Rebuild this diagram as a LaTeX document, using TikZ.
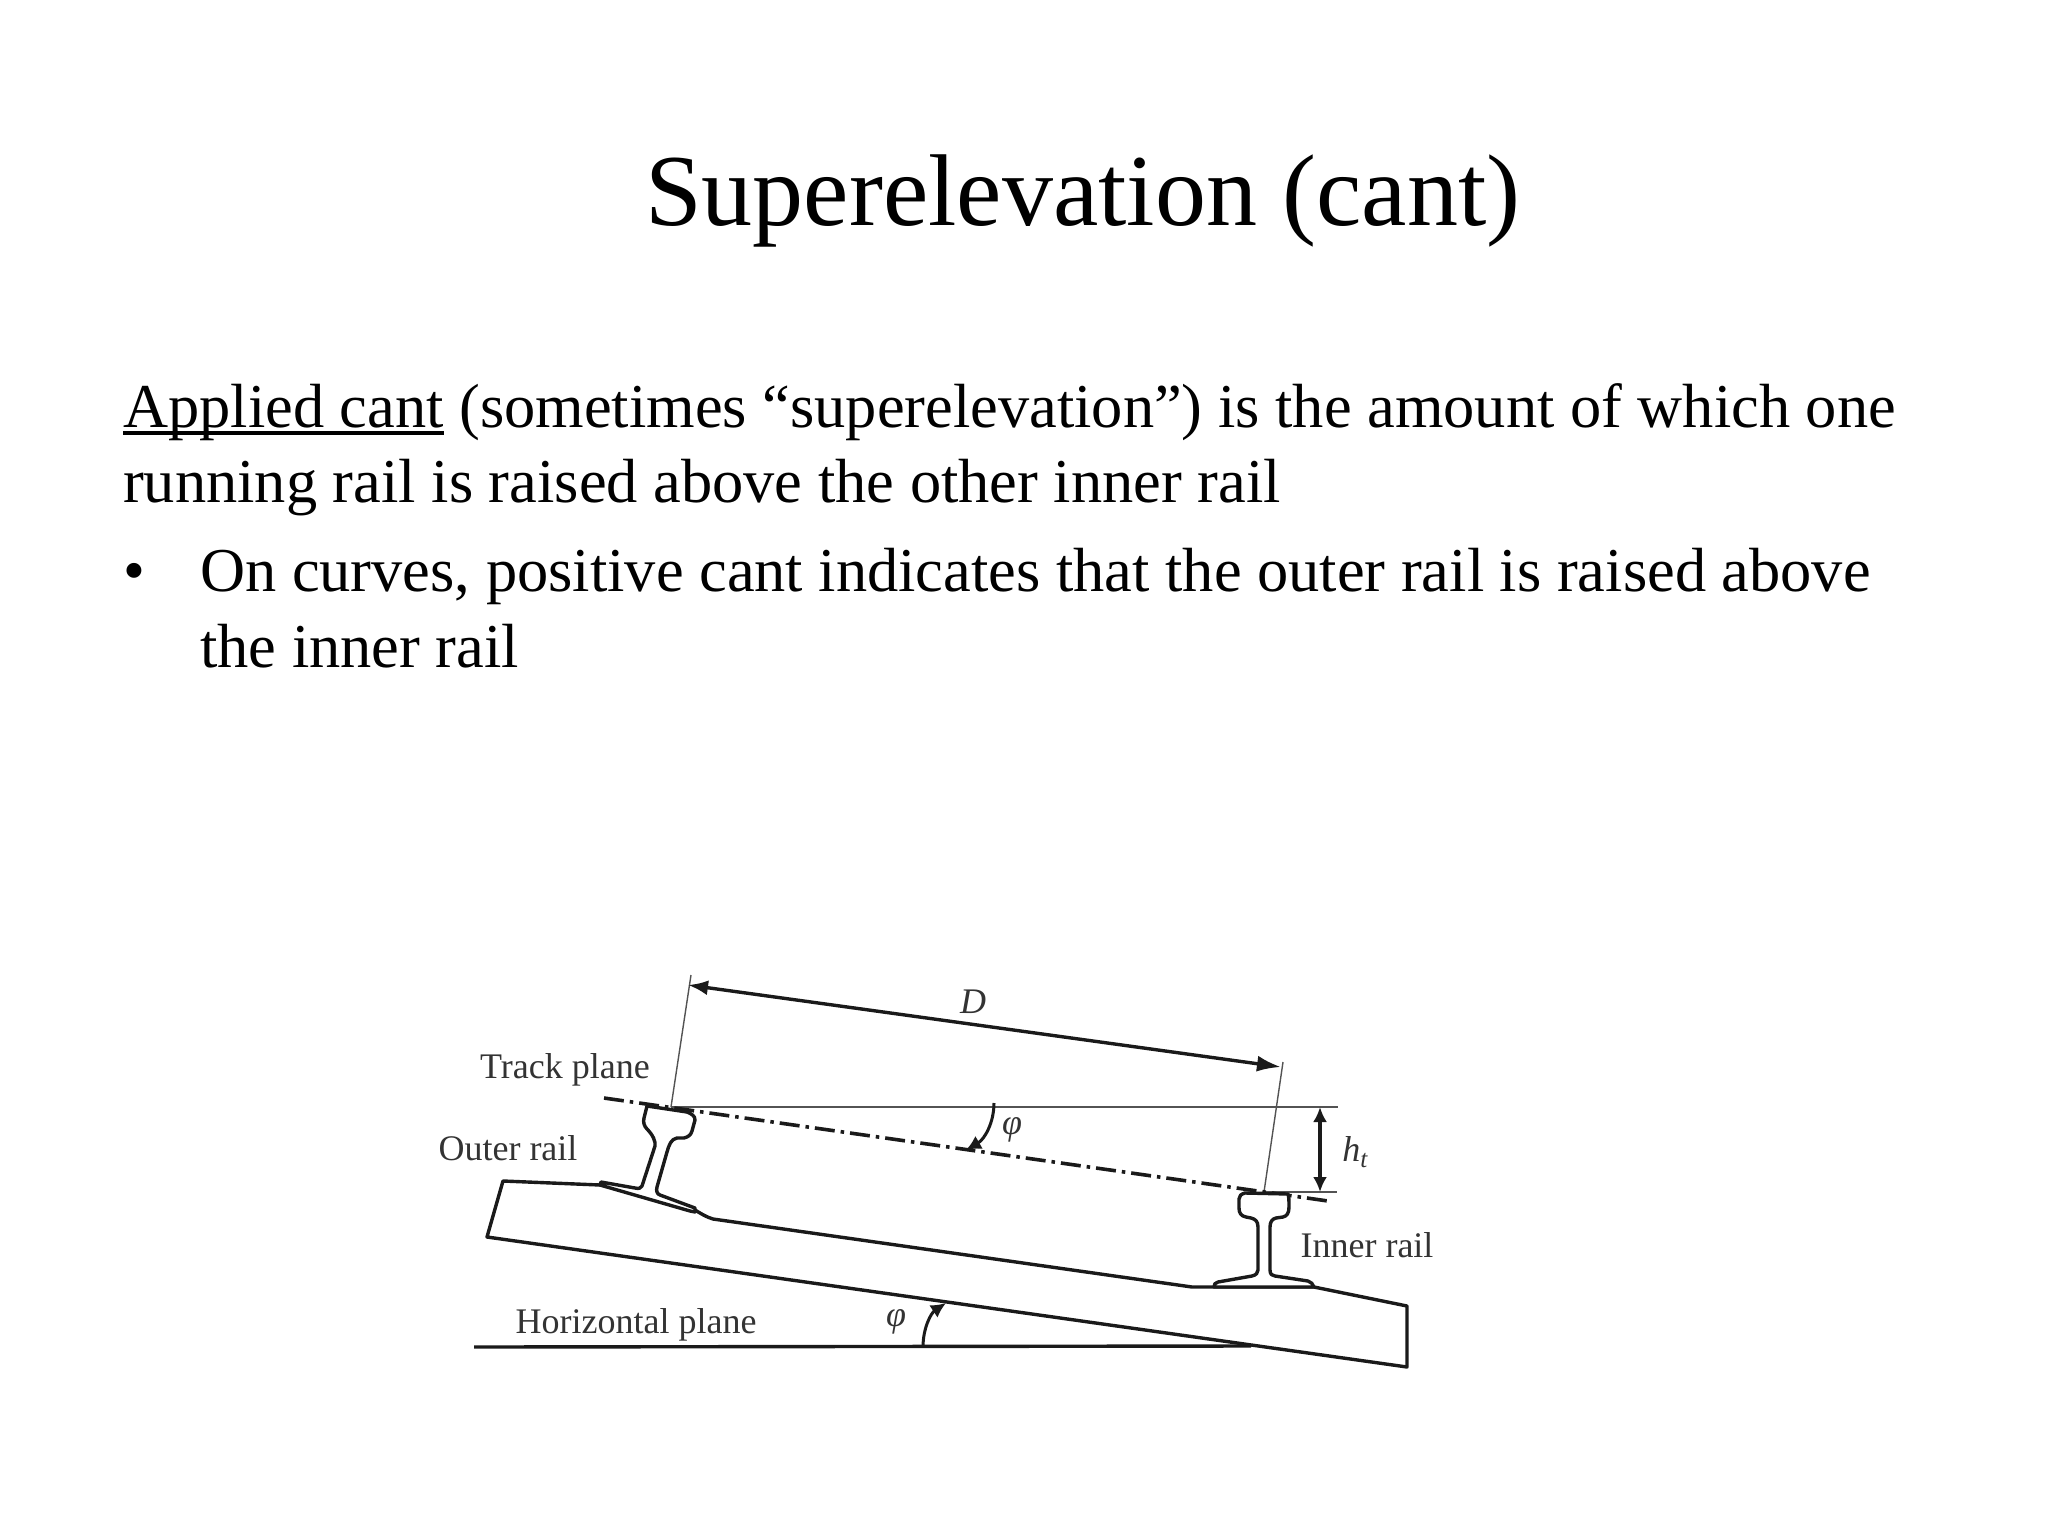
\documentclass[tikz,border=0pt]{standalone}
\usepackage{fontspec}
\setmainfont{Liberation Serif}
\usetikzlibrary{arrows.meta}
\definecolor{lab}{HTML}{333333}
\definecolor{ink}{HTML}{1A1A1A}
\newcommand{\titlesize}{\fontsize{102}{120}\selectfont}
\newcommand{\bodysize}{\fontsize{62.4}{76}\selectfont}
\newcommand{\labsize}{\fontsize{36}{42}\selectfont}
\newsavebox{\ulbox}
\newcommand{\ulcant}[1]{\sbox{\ulbox}{#1}\rlap{\rule[-8pt]{\wd\ulbox}{4.5pt}}\usebox{\ulbox}}
\tikzset{
  slidetitle/.style={anchor=base west,inner sep=0pt,font=\titlesize,text=black},
  bodytext/.style={anchor=base west,inner sep=0pt,font=\bodysize,text=black},
  lab/.style={inner sep=0pt,font=\labsize,text=lab},
  thin line/.style={line width=1.4pt,draw=ink!75},
  heavy/.style={line width=3.4pt,draw=ink,line join=round},
  dim/.style={line width=3.4pt,draw=ink,{Latex[length=20pt,width=15pt]}-{Latex[length=24pt,width=16pt]}},
  dimb/.style={line width=3.4pt,draw=ink,{Latex[length=15pt,width=14pt]}-{Latex[length=15pt,width=14pt]}},
  dimtip/.style={line width=3pt,draw=ink,-{Latex[length=15pt,width=15pt]}},
  axis/.style={line width=3.6pt,draw=ink,dash pattern=on 20pt off 6pt on 3.5pt off 6pt}
}
\begin{document}
\begin{tikzpicture}[x=1pt,y=-1pt]
\useasboundingbox (0,0) rectangle (2048,1536);
\fill[white] (0,0) rectangle (2048,1536);
\node[slidetitle] (title) at (645,225) {Superelevation (cant)};
\node[bodytext] (b1) at (123,427.4) {\ulcant{Applied cant} (sometimes “superelevation”) is the amount of which one};
\node[bodytext] (b2) at (123,502.4) {running rail is raised above the other inner rail};
\node[bodytext] (bul) at (123,591.4) {•};
\node[bodytext] (b3) at (200,591.4) {On curves, positive cant indicates that the outer rail is raised above};
\node[bodytext] (b4) at (200,667.4) {the inner rail};

% labels
\node[lab] (track) at (565,1070) {Track plane};
\node[lab] (outer) at (508,1148) {Outer rail};
\node[lab] (inner) at (1367,1245) {Inner rail};
\node[lab] (horiz) at (636,1325) {Horizontal plane};
\node[lab] (D) at (973,1002) {\itshape D};
\node[lab] (phiA) at (1012,1130) {\itshape φ};
\node[lab] (phiB) at (896,1322) {\itshape φ};
\node[lab] (ht) at (1355,1152) {\itshape h\textsubscript{t}};

% anchors
\coordinate (dl) at (688,985);
\coordinate (dr) at (1281,1067);
\coordinate (elt) at (691,975);
\coordinate (elb) at (671,1107);
\coordinate (ert) at (1283,1062);
\coordinate (erb) at (1264,1192);
\coordinate (hu) at (1338,1107);
\coordinate (hl) at (1337,1192);
\coordinate (htu) at (1320,1107);
\coordinate (htl) at (1320,1192);
\coordinate (axa) at (604,1098);
\coordinate (axb) at (1328,1201);
\coordinate (hpa) at (474,1347);
\coordinate (hpb) at (1251,1346);
\coordinate (arcAa) at (994,1103);
\coordinate (arcAb) at (966,1150);
\coordinate (arcBa) at (923,1347);
\coordinate (arcBb) at (946,1303);

% thin lines
\draw[thin line] (elt) -- (elb);
\draw[thin line] (ert) -- (erb);
\draw[thin line] (elb) -- (hu);
\draw[thin line] (erb) -- (hl);
% centre line
\draw[axis] (axa) -- (axb);
% dimensions
\draw[dim] (dl) -- (dr);
\draw[dimb] (htu) -- (htl);
\draw[dimtip] (arcAa) .. controls (994,1122) and (985,1139) .. (arcAb);
\draw[dimtip] (arcBa) .. controls (923,1328) and (931,1313) .. (arcBb);
\draw[heavy] (hpa) -- (hpb);

% sleeper
\draw[heavy] (600,1185) -- (503,1181) -- (487,1237) -- (1407,1367) -- (1407,1306) -- (1314,1287)
  -- (1192,1287) -- (713,1219) .. controls (706,1217) and (700,1213) .. (695,1210);
% outer rail
\draw[heavy,fill=white] (647,1106) -- (687,1112) .. controls (692,1114) and (695,1116) .. (695,1120)
  -- (692,1131) .. controls (691,1135) and (688,1137) .. (684,1138) -- (677,1138)
  .. controls (671,1139) and (669,1145) .. (667,1152) -- (657,1187) .. controls (656,1191) and (657,1194) .. (660,1195)
  -- (695,1208) -- (695,1212) -- (690,1211) -- (600,1185) -- (601,1182) -- (635,1188) .. controls (639,1189) and (641,1188) .. (642,1186)
  -- (655,1146) .. controls (656,1142) and (653,1135) .. (647,1129) .. controls (644,1126) and (643,1122) .. (644,1118) -- cycle;
% inner rail
\draw[heavy,fill=white] (1245,1193) -- (1288,1194) .. controls (1289,1197) and (1289,1201) .. (1289,1207)
  .. controls (1289,1213) and (1287,1216) .. (1283,1217) -- (1276,1218) .. controls (1272,1219) and (1270,1222) .. (1270,1227)
  -- (1270,1270) .. controls (1270,1274) and (1272,1276) .. (1275,1276) -- (1308,1281) .. controls (1311,1282) and (1313,1284) .. (1314,1287)
  -- (1214,1287) .. controls (1214,1284) and (1215,1283) .. (1218,1282) -- (1252,1276) .. controls (1256,1275) and (1258,1273) .. (1258,1270)
  -- (1258,1227) .. controls (1258,1221) and (1255,1219) .. (1251,1218) -- (1246,1217) .. controls (1241,1216) and (1239,1213) .. (1239,1208)
  -- (1239,1199) .. controls (1239,1196) and (1241,1194) .. (1245,1193) -- cycle;
\end{tikzpicture}
\end{document}
